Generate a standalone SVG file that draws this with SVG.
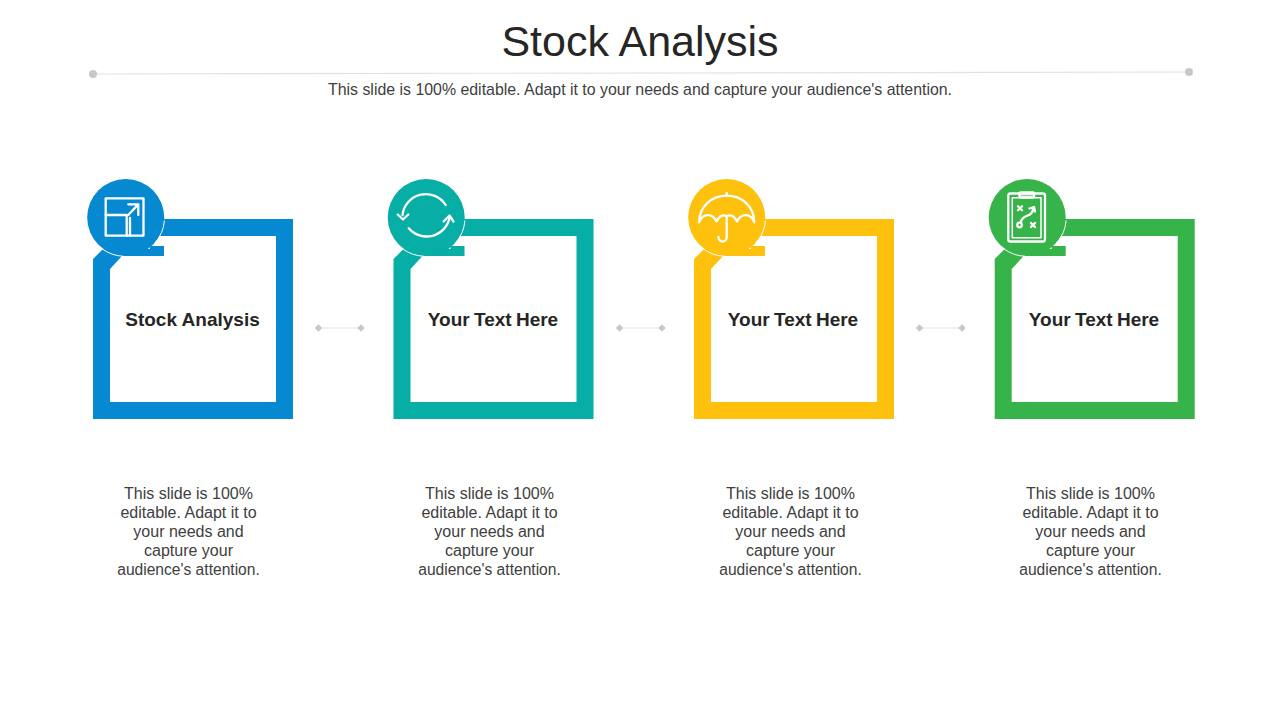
<svg xmlns="http://www.w3.org/2000/svg" width="1280" height="720" viewBox="0 0 1280 720">
<style>
text{font-family:"Liberation Sans",Arial,sans-serif;text-anchor:middle}
.title{font-size:43px;fill:#262626}
.sub{font-size:15.900px;fill:#404040}
.head{font-size:19px;font-weight:bold;fill:#262626}
.tight{word-spacing:-1px}
.body{font-size:16px;fill:#404040}
.last{font-size:15.600px}
.ln{stroke:#e2e2e2;stroke-width:1.200;fill:none}
.dot{fill:#c8c8c8}
.ic{fill:none;stroke:#fff;stroke-width:2.300;stroke-linecap:round;stroke-linejoin:round}
.blue{fill:#0689d0}.teal{fill:#06aea5}.yellow{fill:#fec10e}.green{fill:#36b44a}
.seam{fill:none;stroke:#fff;stroke-width:1}
</style>
<defs>
<path id="frame" fill-rule="evenodd" d="M93 419V259L103 249H150V219H293V419ZM110 402H276V236H150V246H164V256H122L110 269Z"/>
<path id="seam" class="seam" d="M164.400 220.500A38.800 38.800 0 0 1 155 243M123.700 256.300A38.800 38.800 0 0 1 101.700 248.500"/>
<g id="link"><line class="ln" x1="319" y1="328" x2="361" y2="328"/><path class="dot" d="M318.500 324.300L322.200 328 318.500 331.700 314.800 328ZM361 324.300L364.700 328 361 331.700 357.300 328Z"/></g>
</defs>
<g id="header">
<text class="title" x="640" y="55.500">Stock Analysis</text>
<path class="ln" d="M93 74L1189 72"/>
<circle class="dot" cx="93" cy="74" r="4"/>
<circle class="dot" cx="1189" cy="72" r="4"/>
<text class="sub" x="640" y="95">This slide is 100% editable. Adapt it to your needs and capture your audience's attention.</text>
</g>
<g id="connectors">
<use href="#link"/>
<use href="#link" x="301"/>
<use href="#link" x="601"/>
</g>
<g id="node1">
<use href="#frame" class="blue"/>
<circle class="blue" cx="125.700" cy="217.500" r="38.500"/>
<use href="#seam"/>
<g class="ic"><path d="M105.700 198.300H143.500V235.700H105.700Z"/><path d="M105.700 215H126.700V235.700"/><path d="M130 218V235.700"/><path d="M128.300 215L138.300 204.300M128.300 204.300H138.300V215"/></g>
<text class="head" x="192.500" y="326">Stock Analysis</text>
<text class="body"><tspan x="188.500" y="499">This slide is 100%</tspan><tspan x="188.500" y="518">editable. Adapt it to</tspan><tspan x="188.500" y="537">your needs and</tspan><tspan x="188.500" y="556">capture your</tspan><tspan class="last" x="188.500" y="575">audience's attention.</tspan></text>
</g>
<g id="node2">
<use href="#frame" class="teal" x="300.500"/>
<circle class="teal" cx="426.200" cy="217.500" r="38.500"/>
<use href="#seam" x="300.500"/>
<g class="ic"><path d="M445.700 205A23.500 23.500 0 0 0 402.500 215"/><path d="M397.700 214.500L403 219.500 408.300 214.500"/><path d="M408.700 228.300A23.500 23.500 0 0 0 449.500 218"/><path d="M443.600 221.500L449.500 215.500 453.500 221.500"/></g>
<text class="head tight" x="493" y="326">Your Text Here</text>
<text class="body"><tspan x="489.500" y="499">This slide is 100%</tspan><tspan x="489.500" y="518">editable. Adapt it to</tspan><tspan x="489.500" y="537">your needs and</tspan><tspan x="489.500" y="556">capture your</tspan><tspan class="last" x="489.500" y="575">audience's attention.</tspan></text>
</g>
<g id="node3">
<use href="#frame" class="yellow" x="601"/>
<circle class="yellow" cx="726.700" cy="217.500" r="38.500"/>
<use href="#seam" x="601"/>
<g class="ic"><path d="M699 222.300C699.500 206 712 195.700 726.700 195.700C741.500 195.700 754 206 754.300 222.300C751 213 741 212.500 737 221.500C733.500 214.500 729 214.500 726.700 216.500C724.500 214.500 720 214.500 716.500 221.500C712.500 212.500 702.500 213 699 222.300Z"/><path d="M726.700 193V195.700M726.700 217V237C726.700 243 718.500 243 718.500 237"/></g>
<text class="head tight" x="793" y="326">Your Text Here</text>
<text class="body"><tspan x="790.500" y="499">This slide is 100%</tspan><tspan x="790.500" y="518">editable. Adapt it to</tspan><tspan x="790.500" y="537">your needs and</tspan><tspan x="790.500" y="556">capture your</tspan><tspan class="last" x="790.500" y="575">audience's attention.</tspan></text>
</g>
<g id="node4">
<use href="#frame" class="green" x="901.700"/>
<circle class="green" cx="1027.200" cy="217.500" r="38.500"/>
<use href="#seam" x="901.700"/>
<g class="ic"><rect x="1008.300" y="193.500" width="36.700" height="48" rx="2"/><rect x="1012.300" y="197.700" width="28.700" height="40" style="stroke-width:1.500"/><rect x="1019.500" y="192.500" width="14.500" height="5" rx="1" style="fill:#fff;fill-opacity:.45"/><path d="M1018 206.300L1022 210.300M1022 206.300L1018 210.300M1031 223L1035 227M1035 223L1031 227"/><path d="M1021 221.500C1023 213.500 1032 218 1033.300 208.500M1029.500 208.500L1034 207 1035 211.500"/><circle cx="1019.500" cy="225" r="2.300"/></g>
<text class="head tight" x="1094" y="326">Your Text Here</text>
<text class="body"><tspan x="1090.500" y="499">This slide is 100%</tspan><tspan x="1090.500" y="518">editable. Adapt it to</tspan><tspan x="1090.500" y="537">your needs and</tspan><tspan x="1090.500" y="556">capture your</tspan><tspan class="last" x="1090.500" y="575">audience's attention.</tspan></text>
</g>
</svg>
